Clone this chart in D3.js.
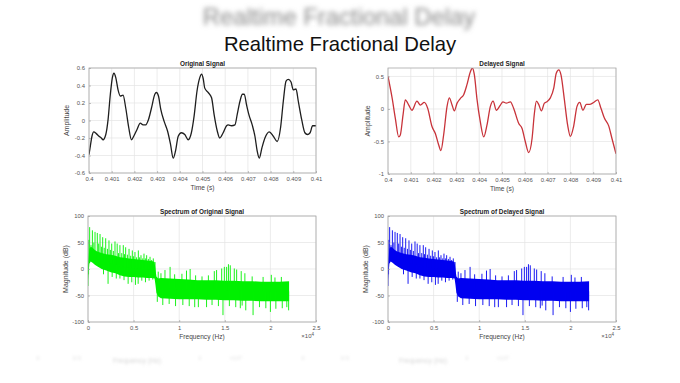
<!DOCTYPE html>
<html><head><meta charset="utf-8">
<script src="https://cdn.jsdelivr.net/npm/d3@7"></script>
<style>body{margin:0;background:#fff} svg{display:block;font-family:"Liberation Sans",Arial,sans-serif}</style>
</head><body><svg id="c" width="680" height="383"></svg>
<script>
// ---------- data ----------
const chartTitle = "Realtime Fractional Delay";
const origT = [0.40000,0.40006,0.40013,0.40021,0.40032,0.40044,0.40054,0.40062,0.40074,0.40084,0.40094,0.40103,0.40110,0.40118,0.40128,0.40138,0.40150,0.40162,0.40175,0.40187,0.40197,0.40212,0.40226,0.40238,0.40250,0.40262,0.40275,0.40290,0.40297,0.40306,0.40316,0.40331,0.40346,0.40359,0.40371,0.40381,0.40393,0.40407,0.40422,0.40437,0.40451,0.40463,0.40476,0.40488,0.40496,0.40503,0.40510,0.40525,0.40540,0.40551,0.40565,0.40576,0.40591,0.40606,0.40613,0.40628,0.40643,0.40653,0.40665,0.40676,0.40684,0.40694,0.40704,0.40719,0.40731,0.40741,0.40750,0.40762,0.40775,0.40794,0.40812,0.40829,0.40844,0.40856,0.40868,0.40878,0.40890,0.40900,0.40912,0.40922,0.40937,0.40951,0.40962,0.40974,0.40985,0.41000];
const origA = [-0.39,-0.29,-0.18,-0.13,-0.15,-0.18,-0.20,-0.22,-0.16,0.01,0.30,0.49,0.54,0.49,0.35,0.28,0.29,0.14,-0.08,-0.22,-0.18,-0.10,-0.03,-0.05,-0.05,0.01,0.14,0.30,0.32,0.28,0.13,-0.01,-0.12,-0.27,-0.43,-0.35,-0.18,-0.14,-0.16,-0.22,-0.14,0.05,0.34,0.49,0.53,0.48,0.37,0.32,0.26,0.07,-0.12,-0.20,-0.14,-0.06,-0.05,-0.06,-0.05,0.07,0.22,0.30,0.30,0.18,0.07,-0.05,-0.18,-0.35,-0.43,-0.31,-0.20,-0.13,-0.18,-0.24,-0.08,0.22,0.45,0.47,0.44,0.35,0.36,0.22,0.01,-0.14,-0.16,-0.14,-0.06,-0.06];
const delT = [0.40000,0.40018,0.40032,0.40047,0.40054,0.40066,0.40076,0.40091,0.40105,0.40127,0.40142,0.40159,0.40174,0.40193,0.40208,0.40222,0.40232,0.40244,0.40259,0.40269,0.40281,0.40291,0.40303,0.40317,0.40332,0.40346,0.40361,0.40370,0.40379,0.40390,0.40405,0.40420,0.40434,0.40449,0.40461,0.40475,0.40493,0.40504,0.40519,0.40537,0.40551,0.40573,0.40588,0.40602,0.40617,0.40632,0.40642,0.40651,0.40661,0.40673,0.40686,0.40697,0.40712,0.40727,0.40738,0.40749,0.40759,0.40773,0.40788,0.40800,0.40814,0.40829,0.40841,0.40855,0.40870,0.40884,0.40902,0.40920,0.40934,0.40949,0.40968,0.40982,0.41000];
const delA = [0.50,0.17,-0.14,-0.43,-0.40,-0.09,0.14,0.06,-0.02,0.12,0.06,0.10,0.01,-0.27,-0.38,-0.55,-0.64,-0.40,0.04,0.17,0.06,-0.03,0.09,0.16,0.22,0.37,0.57,0.63,0.52,0.16,-0.20,-0.43,-0.25,0.04,0.12,-0.02,0.06,0.11,0.09,0.11,0.01,-0.22,-0.30,-0.50,-0.67,-0.45,-0.07,0.12,0.07,-0.03,0.09,0.11,0.17,0.32,0.55,0.60,0.52,0.16,-0.25,-0.42,-0.27,0.04,0.10,-0.02,0.07,0.07,0.10,0.14,0.01,-0.14,-0.26,-0.45,-0.69];

const timeTicks = [0.4,0.401,0.402,0.403,0.404,0.405,0.406,0.407,0.408,0.409,0.41];
const timeTickLabels = ["0.4","0.401","0.402","0.403","0.404","0.405","0.406","0.407","0.408","0.409","0.41"];
const origYTicks = [-0.6,-0.4,-0.2,0,0.2,0.4,0.6];
const origYLabels = ["-0.6","-0.4","-0.2","0","0.2","0.4","0.6"];
const delYTicks = [-1,-0.5,0,0.5];
const delYLabels = ["-1","-0.5","0","0.5"];
const freqTicks = [0,5000,10000,15000,20000,25000];
const freqTickLabels = ["0","0.5","1","1.5","2","2.5"];
const magTicks = [-100,-50,0,50,100];
const magLabels = ["-100","-50","0","50","100"];

// spectrum envelope (Hz, dB)
const specFreq  = [0,150,300,500,750,1000,1500,2000,2500,3000,3500,4000,4500,5000,5500,6000,6500,7000,7300,7400,7500,7700,8000,9000,10000,11000,12000,13000,14000,15000,16000,17000,18000,19000,20000,21000,22050];
const specUpper = [10,38,42,40,36,33,30,28,27,25,22,21,20,19,18,17,16,15,13,0,-14,-18,-17,-18,-19,-20,-21,-21,-21,-22,-22,-23,-23,-24,-24,-24,-23];
const specLower = [-20,10,14,12,8,5,0,-3,-6,-8,-12,-14,-15,-15,-16,-16,-17,-17,-18,-30,-45,-52,-55,-56,-57,-57,-57,-58,-58,-59,-59,-60,-60,-61,-61,-61,-61];
// harmonic peaks rising above the band
const peakFreq = [90,180,330,480,640,770,1020,1170,1320,1470,1610,1780,1940,2130,2300,2450,2600,2780,2960,3200,3350,3500,3700,3870,4000,4130,4320,4500,4680,4860,5000,5150,5330,5520,5660,5810,6000,6140,6290,6430,6620,6800,6980,7160,7350,7700,8000,8440,9000,9500,10300,10800,11200,11800,12500,13200,13850,14100,14660,14950,15200,15400,15600,16040,16300,16800,17200,18000,19200,20100,20500,21200];
const peakDb   = [55,79,45,73,50,70,68,48,66,42,60,40,58,38,54,36,48,34,52,48,30,45,30,45,28,41,27,38,25,35,24,32,22,35,22,26,20,29,20,26,19,23,17,20,13,-5,-8,-2,4,-10,-9,-3,0,-12,-14,-12,-4,-2,1,4,4,9,7,1,-1,-4,-8,-14,-15,-11,-16,-15];
// dips falling below the band
const dipFreq = [0,60,1700,2200,2650,3100,3500,3950,4400,4800,5200,5500,5900,6300,6700,7100,7600,8200,8900,9600,10400,11100,11700,12100,13000,13600,14300,14800,15500,16200,16700,16900,17300,18100,18800,19500,20000,20600,21300,21800,22000];
const dipDb   = [-32,-10,-10,-28,-15,-18,-18,-21,-28,-25,-30,-28,-22,-25,-22,-20,-62,-68,-66,-70,-68,-70,-72,-72,-72,-68,-70,-87,-70,-72,-74,-69,-78,-87,-72,-74,-81,-75,-74,-72,-78];

// ---------- drawing ----------
const svg = d3.select("#c");
const defs = svg.append("defs");
defs.append("filter").attr("id","blur").attr("x","-20%").attr("y","-50%").attr("width","140%").attr("height","200%")
  .append("feGaussianBlur").attr("stdDeviation",2.6);
defs.append("filter").attr("id","blur2").attr("x","-20%").attr("y","-50%").attr("width","140%").attr("height","200%")
  .append("feGaussianBlur").attr("stdDeviation",1.6);

svg.append("text").attr("x",339).attr("y",25).attr("text-anchor","middle")
  .attr("font-size",23.8).attr("fill","#8a8a8a").attr("filter","url(#blur)").text(chartTitle);
svg.append("text").attr("x",340).attr("y",51).attr("text-anchor","middle")
  .attr("font-size",20.3).attr("fill","#111").text(chartTitle);

// faint ghost labels at the bottom
[[137,"Frequency (Hz)"],[423,"Frequency (Hz)"]].forEach(([x,t])=>{
  svg.append("text").attr("x",x).attr("y",363).attr("text-anchor","middle").attr("font-size",7)
    .attr("fill","#d4d4d4").attr("filter","url(#blur2)").text(t);
});
[[236,"×10⁴"],[503,"×10⁴"],[38,"0"],[77,"0.5"],[303,"0"],[345,"0.5"],[200,"2"],[467,"2"]].forEach(([x,t])=>{
  svg.append("text").attr("x",x).attr("y",360).attr("text-anchor","middle").attr("font-size",6)
    .attr("fill","#e2e2e2").attr("filter","url(#blur2)").text(t);
});

function panel(cfg){
  const g = svg.append("g");
  const x = d3.scaleLinear().domain(cfg.xd).range([cfg.x0,cfg.x1]);
  const y = d3.scaleLinear().domain(cfg.yd).range([cfg.y1,cfg.y0]);
  // grid
  g.append("g").selectAll("line").data(cfg.xt).join("line")
    .attr("x1",d=>x(d)).attr("x2",d=>x(d)).attr("y1",cfg.y0).attr("y2",cfg.y1)
    .attr("stroke","#e4e4e4").attr("stroke-width",0.7);
  g.append("g").selectAll("line").data(cfg.yt).join("line")
    .attr("y1",d=>y(d)).attr("y2",d=>y(d)).attr("x1",cfg.x0).attr("x2",cfg.x1)
    .attr("stroke","#e4e4e4").attr("stroke-width",0.7);
  // clip
  const cid = "clip"+cfg.id;
  defs.append("clipPath").attr("id",cid).append("rect")
    .attr("x",cfg.x0).attr("y",cfg.y0).attr("width",cfg.x1-cfg.x0).attr("height",cfg.y1-cfg.y0);
  const plot = g.append("g").attr("clip-path",`url(#${cid})`);
  cfg.draw(plot,x,y);
  // box
  g.append("rect").attr("x",cfg.x0).attr("y",cfg.y0).attr("width",cfg.x1-cfg.x0).attr("height",cfg.y1-cfg.y0)
    .attr("fill","none").attr("stroke","#a8a8a8").attr("stroke-width",0.8);
  // axes (inward ticks)
  const ax = d3.axisBottom(x).tickValues(cfg.xt).tickFormat((d,i)=>cfg.xl[i]).tickSize(-2).tickPadding(4);
  const ay = d3.axisLeft(y).tickValues(cfg.yt).tickFormat((d,i)=>cfg.yl[i]).tickSize(-2).tickPadding(4);
  const gx = g.append("g").attr("transform",`translate(0,${cfg.y1})`).call(ax);
  const gy = g.append("g").attr("transform",`translate(${cfg.x0},0)`).call(ay);
  [gx,gy].forEach(a=>{
    a.select(".domain").remove();
    a.selectAll("line").attr("stroke","#999").attr("stroke-width",0.6);
    a.selectAll("text").attr("fill","#555").attr("font-size",5.9).attr("font-family",null);
  });
  gx.selectAll("text").attr("dy","0.71em");
  // title and labels
  g.append("text").attr("x",(cfg.x0+cfg.x1)/2).attr("y",cfg.y0-2.5).attr("text-anchor","middle")
    .attr("font-size",6.4).attr("font-weight","bold").attr("fill","#222").text(cfg.title);
  g.append("text").attr("x",(cfg.x0+cfg.x1)/2).attr("y",cfg.y1+17).attr("text-anchor","middle")
    .attr("font-size",6.6).attr("fill","#444").text(cfg.xlabel);
  g.append("text").attr("transform",`translate(${cfg.ylx},${(cfg.y0+cfg.y1)/2}) rotate(-90)`)
    .attr("text-anchor","middle").attr("font-size",7).attr("fill","#444").text(cfg.ylabel);
  if(cfg.exp){
    const t = g.append("text").attr("x",cfg.x1-2).attr("y",cfg.y1+16).attr("text-anchor","end")
      .attr("font-size",6).attr("fill","#555");
    t.append("tspan").text("×10");
    t.append("tspan").attr("dy",-2.5).attr("font-size",4.5).text("4");
  }
}

function signalDraw(T,A,color){
  return (p,x,y)=>{
    const line = d3.line().x((d,i)=>x(T[i])).y((d,i)=>y(A[i])).curve(d3.curveMonotoneX);
    p.append("path").attr("d",line(A)).attr("fill","none").attr("stroke",color)
      .attr("stroke-width",1.3).attr("stroke-linejoin","round");
  };
}
function specDraw(color){
  return (p,x,y)=>{
    const up = d3.scaleLinear().domain(specFreq).range(specUpper);
    const lo = d3.scaleLinear().domain(specFreq).range(specLower);
    const area = d3.area().x((d,i)=>x(specFreq[i])).y0((d,i)=>y(specLower[i])).y1((d,i)=>y(specUpper[i]));
    p.append("path").attr("d",area(specFreq)).attr("fill",color);
    p.append("g").selectAll("line").data(peakFreq).join("line")
      .attr("x1",d=>x(d)).attr("x2",d=>x(d))
      .attr("y1",d=>y((up(d)+lo(d))/2)).attr("y2",(d,i)=>y(peakDb[i]))
      .attr("stroke",color).attr("stroke-width",0.9);
    p.append("g").selectAll("line").data(dipFreq).join("line")
      .attr("x1",d=>x(d)).attr("x2",d=>x(d))
      .attr("y1",d=>y((up(d)+lo(d))/2)).attr("y2",(d,i)=>y(dipDb[i]))
      .attr("stroke",color).attr("stroke-width",0.9);
  };
}

panel({id:1,x0:89,x1:316,y0:68,y1:173,xd:[0.4,0.41],yd:[-0.6,0.6],xt:timeTicks,xl:timeTickLabels,yt:origYTicks,yl:origYLabels,
  title:"Original Signal",xlabel:"Time (s)",ylabel:"Amplitude",ylx:69,draw:signalDraw(origT,origA,"#1e1e1e")});
panel({id:2,x0:388,x1:616,y0:68,y1:174,xd:[0.4,0.41],yd:[-1,0.63],xt:timeTicks,xl:timeTickLabels,yt:delYTicks,yl:delYLabels,
  title:"Delayed Signal",xlabel:"Time (s)",ylabel:"Amplitude",ylx:370,draw:signalDraw(delT,delA,"#c8333a")});
panel({id:3,x0:88,x1:316,y0:216,y1:322,xd:[0,25000],yd:[-100,100],xt:freqTicks,xl:freqTickLabels,yt:magTicks,yl:magLabels,
  title:"Spectrum of Original Signal",xlabel:"Frequency (Hz)",ylabel:"Magnitude (dB)",ylx:68,exp:true,draw:specDraw("#00f000")});
panel({id:4,x0:388,x1:616,y0:216,y1:322,xd:[0,25000],yd:[-100,100],xt:freqTicks,xl:freqTickLabels,yt:magTicks,yl:magLabels,
  title:"Spectrum of Delayed Signal",xlabel:"Frequency (Hz)",ylabel:"Magnitude (dB)",ylx:368,exp:true,draw:specDraw("#0000f0")});
</script></body></html>
